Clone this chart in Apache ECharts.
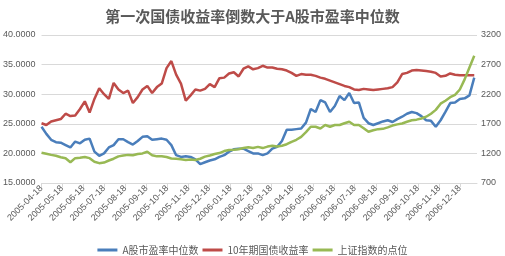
<!DOCTYPE html>
<html><head><meta charset="utf-8">
<script src="https://cdn.jsdelivr.net/npm/echarts@6/dist/echarts.min.js"></script>
<style>html,body{margin:0;padding:0;background:#fff}#c{width:505px;height:256px}</style>
</head><body><div id="c"></div>
<script>
const dates = ['2005-04-18','2005-04-25','2005-05-02','2005-05-09','2005-05-16','2005-05-23','2005-05-30','2005-06-06','2005-06-13','2005-06-20','2005-06-27','2005-07-04','2005-07-11','2005-07-18','2005-07-25','2005-08-01','2005-08-08','2005-08-15','2005-08-22','2005-08-29','2005-09-05','2005-09-12','2005-09-19','2005-09-26','2005-10-03','2005-10-10','2005-10-17','2005-10-24','2005-10-31','2005-11-07','2005-11-14','2005-11-21','2005-11-28','2005-12-05','2005-12-12','2005-12-19','2005-12-26','2006-01-02','2006-01-09','2006-01-16','2006-01-23','2006-01-30','2006-02-06','2006-02-13','2006-02-20','2006-02-27','2006-03-06','2006-03-13','2006-03-20','2006-03-27','2006-04-03','2006-04-10','2006-04-17','2006-04-24','2006-05-01','2006-05-08','2006-05-15','2006-05-22','2006-05-29','2006-06-05','2006-06-12','2006-06-19','2006-06-26','2006-07-03','2006-07-10','2006-07-17','2006-07-24','2006-07-31','2006-08-07','2006-08-14','2006-08-21','2006-08-28','2006-09-04','2006-09-11','2006-09-18','2006-09-25','2006-10-02','2006-10-09','2006-10-16','2006-10-23','2006-10-30','2006-11-06','2006-11-13','2006-11-20','2006-11-27','2006-12-04','2006-12-11','2006-12-18','2006-12-25','2007-01-01','2007-01-08'];
const peMedian = [24.5,23.3,22.3,21.9,21.8,21.4,21.0,22.0,21.7,22.3,22.5,20.3,19.6,20.0,21.0,21.4,22.4,22.4,21.9,21.5,22.1,22.8,22.9,22.3,22.4,22.5,22.3,21.4,19.7,19.4,19.5,19.4,19.0,18.2,18.5,18.8,19.0,19.4,19.7,20.3,20.7,20.8,20.8,20.4,20.0,20.0,19.7,20.0,20.8,21.1,22.1,24.0,24.0,24.1,24.2,25.2,27.5,27.0,29.0,28.6,27.0,28.0,29.7,29.0,30.2,28.5,28.6,26.0,25.1,24.8,25.1,25.4,25.6,25.3,25.8,26.2,26.7,27.0,26.8,26.3,25.6,25.5,24.5,25.6,27.0,28.5,28.6,29.2,29.3,29.8,32.8];
const bondInv = [25.1,24.8,25.4,25.6,25.8,26.7,26.3,26.4,27.5,28.8,26.9,29.2,31.0,30.0,29.2,31.9,30.8,30.2,30.6,28.5,29.5,30.8,31.4,30.2,31.2,31.8,34.4,35.6,33.3,31.8,28.9,29.8,30.8,30.6,30.9,31.7,31.2,32.7,32.8,33.5,33.7,33.0,34.3,34.7,34.2,34.4,34.8,34.5,34.5,34.3,34.2,34.0,33.6,33.1,33.4,33.3,33.3,33.1,32.8,32.6,32.3,32.0,31.7,31.4,31.2,30.8,30.7,30.9,30.8,30.7,30.8,30.9,31.0,31.2,32.0,33.4,33.6,34.0,34.1,34.0,33.9,33.8,33.6,33.0,33.1,33.5,33.3,33.2,33.2,33.2,33.2];
const shIndex = [1212,1195,1175,1160,1135,1117,1050,1120,1125,1140,1120,1060,1035,1045,1080,1110,1150,1165,1175,1170,1190,1200,1228,1170,1150,1150,1140,1115,1110,1100,1090,1095,1090,1110,1145,1165,1190,1205,1240,1258,1260,1270,1290,1303,1290,1310,1290,1315,1330,1315,1330,1355,1395,1430,1480,1560,1650,1650,1620,1680,1650,1680,1680,1710,1735,1680,1680,1625,1565,1590,1610,1615,1640,1670,1690,1705,1735,1760,1770,1790,1820,1870,1935,2040,2090,2150,2190,2280,2450,2650,2850];
const tickLabels = ['2005-04-18','2005-05-18','2005-06-18','2005-07-18','2005-08-18','2005-09-18','2005-10-18','2005-11-18','2005-12-18','2006-01-18','2006-02-18','2006-03-18','2006-04-18','2006-05-18','2006-06-18','2006-07-18','2006-08-18','2006-09-18','2006-10-18','2006-11-18','2006-12-18'];
const leftTicks = [15,20,25,30,35,40];
const rightTicks = [700,1200,1700,2200,2700,3200];
const seriesNames = ['A股市盈率中位数','10年期国债收益率','上证指数的点位'];

const DAY = 86400000;
function toDay(s){const p=s.split('-').map(Number);return Math.round(Date.UTC(p[0],p[1]-1,p[2])/DAY);}
const tickDays = tickLabels.map(toDay);
function fmtDay(v){const i=tickDays.indexOf(Math.round(v));return i>=0?tickLabels[i]:'';}
function pairs(vals){return dates.map((d,i)=>[toDay(d),vals[i]]);}

const chart = echarts.init(document.getElementById('c'), null, {renderer:'canvas'});
const txt = '#595959', grid='#d9d9d9';
chart.setOption({
  animation:false,
  textStyle:{fontFamily:'"Liberation Sans","Noto Sans CJK SC",sans-serif'},
  color:['#4A7EBB','#BE4B48','#98B954'],
  title:{text:'第一次国债收益率倒数大于A股市盈率中位数',left:'center',top:4,
    textStyle:{fontSize:15,fontWeight:'bold',color:txt,fontFamily:'"Noto Sans CJK SC",sans-serif'}},
  legend:{top:240,left:'center',itemWidth:20,itemHeight:3,itemGap:4,icon:'rect',
    textStyle:{fontSize:10,color:txt,fontFamily:'"Noto Sans CJK SC",sans-serif'},data:seriesNames},
  grid:{left:41,right:28,top:35,bottom:73,containLabel:false},
  xAxis:{type:'value',min:toDay('2005-04-18'),max:toDay('2007-01-12'),
    axisLine:{show:true,lineStyle:{color:grid}},
    axisTick:{show:true,length:4,lineStyle:{color:grid},customValues:tickDays},
    axisLabel:{rotate:45,fontSize:9,color:txt,margin:4,customValues:tickDays,formatter:fmtDay,hideOverlap:false,showMinLabel:true,showMaxLabel:true},
    splitLine:{show:false}},
  yAxis:[
    {type:'value',min:15,max:40,interval:5,position:'left',
     axisLine:{show:false},axisTick:{show:false},
     axisLabel:{fontSize:9,color:txt,margin:6,formatter:v=>v.toFixed(4)},
     splitLine:{show:true,lineStyle:{color:grid}}},
    {type:'value',min:700,max:3200,position:'right',
     axisLine:{show:false},axisTick:{show:false},
     axisLabel:{fontSize:9,color:txt,margin:4,customValues:rightTicks,formatter:v=>String(Math.round(v))},
     splitLine:{show:false}}
  ],
  series:[
    {name:seriesNames[0],type:'line',yAxisIndex:0,showSymbol:false,lineStyle:{width:2.5},data:pairs(peMedian)},
    {name:seriesNames[1],type:'line',yAxisIndex:0,showSymbol:false,lineStyle:{width:2.5},data:pairs(bondInv)},
    {name:seriesNames[2],type:'line',yAxisIndex:1,showSymbol:false,lineStyle:{width:2.5},data:pairs(shIndex)}
  ]
});
</script></body></html>
